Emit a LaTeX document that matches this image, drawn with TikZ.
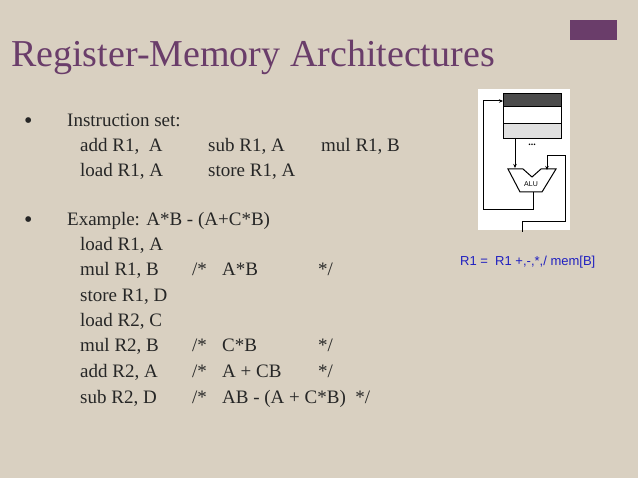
\documentclass[tikz,border=0pt]{standalone}
\usepackage{fontspec}
\setmainfont{Liberation Serif}
\setsansfont{Liberation Sans}
\usetikzlibrary{arrows.meta}
\begin{document}
\begin{tikzpicture}[x=1pt,y=-1pt,
 body/.style={anchor=base west,inner sep=0pt,font=\fontsize{19}{22}\selectfont,text=black!85},
 wire/.style={line width=1pt,black},
 arr/.style={wire,-{Stealth[length=4pt,width=3.5pt]}}]
\definecolor{bg}{HTML}{D9D0C1}
\definecolor{ttl}{HTML}{6A3D6A}
\definecolor{blu}{HTML}{2020C0}
\useasboundingbox (0,0) rectangle (638,478);
\fill[bg] (0,0) rectangle (638,478);
\fill[ttl] (570,20) rectangle (617,40);
\node[anchor=base west,inner sep=0pt,text=ttl,font=\fontsize{38}{40}\selectfont] (title) at (11,67) {Register-Memory Architectures};
% bullets
\node[body,font=\fontsize{24}{24}\selectfont] (b1) at (24,129) {\textbullet};
\node[body,font=\fontsize{24}{24}\selectfont] (b2) at (24,228) {\textbullet};
\node[body] (is) at (67,127) {Instruction set:};
\node[body] (i1) at (80,152) {add R1,\ \ A};
\node[body] (i2) at (208,152) {sub R1, A};
\node[body] (i3) at (321,152) {mul R1, B};
\node[body] (i4) at (80,177) {load R1, A};
\node[body] (i5) at (208,177) {store R1, A};
\node[body] (ex) at (67,226) {Example: A*B - (A+C*B)};
\node[body] (l1) at (80,251) {load R1, A};
\node[body] (l2) at (80,276) {mul R1, B};
\node[body] (c2a) at (192,276) {/*};
\node[body] (c2b) at (222,276) {A*B};
\node[body] (c2c) at (318,276) {*/};
\node[body] (l3) at (80,302) {store R1, D};
\node[body] (l4) at (80,327) {load R2, C};
\node[body] (l5) at (80,352) {mul R2, B};
\node[body] (c5a) at (192,352) {/*};
\node[body] (c5b) at (222,352) {C*B};
\node[body] (c5c) at (318,352) {*/};
\node[body] (l6) at (80,378) {add R2, A};
\node[body] (c6a) at (192,378) {/*};
\node[body] (c6b) at (222,378) {A + CB};
\node[body] (c6c) at (318,378) {*/};
\node[body] (l7) at (80,404) {sub R2, D};
\node[body] (c7a) at (192,404) {/*};
\node[body] (c7b) at (222,404) {AB - (A + C*B)\ \ */};
% figure
\fill[white] (478,89) rectangle (570,230);
\draw[fill=black!70] (503,93) rectangle (561,106);
\draw[fill=white] (503,106) rectangle (561,123);
\draw[fill=black!12] (503,123) rectangle (561,138);
\node[font=\bfseries,inner sep=0pt] (dots) at (532,145) {...};
\draw[line width=1pt,fill=white] (508,169) -- (523,169) -- (532,177) -- (541,169) -- (556,169) -- (542,192) -- (520,192) -- cycle;
\node[font=\sffamily\fontsize{7}{8}\selectfont,inner sep=0pt] (alu) at (531,184) {ALU};
\draw[arr] (515,138) -- (515,168);
\draw[arr] (522,232) -- (522,222) -- (565,222) -- (565,156) -- (547,156) -- (547,170);
\draw[arr] (533,192) -- (533,210) -- (483,210) -- (483,101) -- (503,101);
\node[anchor=base west,inner sep=0pt,text=blu,font=\sffamily\fontsize{13}{15}\selectfont] (eq) at (460,266) {R1 =\ \ R1 +,-,*,/ mem[B]};
\end{tikzpicture}
\end{document}
